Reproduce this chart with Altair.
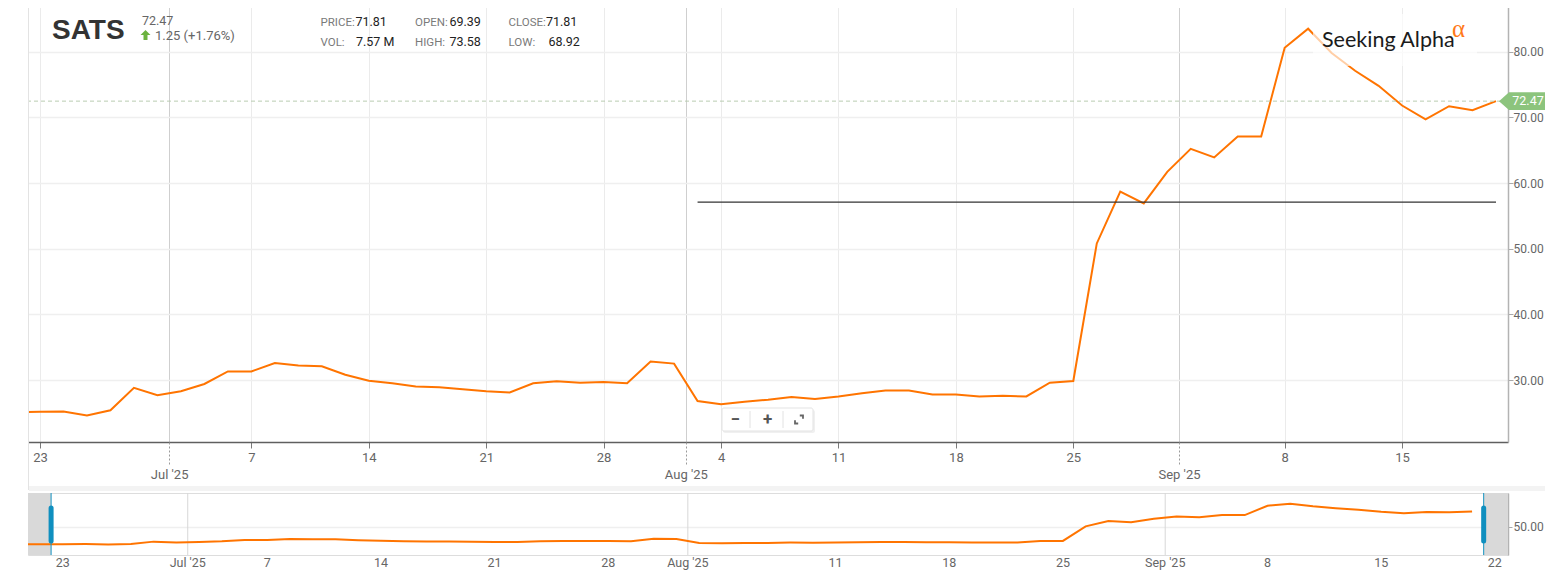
import json
import altair as alt
import pandas as pd

# ---------------- data ----------------
# trading-day index (0 = Mon Jun 23 2025; -2 = Jun 18, -1 = Jun 20; 62 = Fri Sep 19)
day_idx = list(range(-2, 63))
prices = [25.1, 25.1, 25.15, 25.2, 24.6, 25.4, 28.8, 27.7, 28.3, 29.4,
          31.3, 31.3, 32.6, 32.2, 32.1, 30.8, 29.9, 29.5, 29.0, 28.9,
          28.6, 28.3, 28.1, 29.5, 29.8, 29.6, 29.7, 29.5, 32.8, 32.5,
          26.8, 26.3, 26.7, 27.0, 27.4, 27.1, 27.5, 28.0, 28.4, 28.4,
          27.8, 27.8, 27.5, 27.6, 27.5, 29.6, 29.85, 50.8, 58.7, 56.9,
          61.7, 65.2, 63.9, 67.1, 67.1, 80.6, 83.5, 79.8, 77.1, 74.8,
          71.8, 69.7, 71.7, 71.1, 72.47]
assert len(day_idx) == len(prices)

# horizontal level line (start index, end index, value)
level_start, level_end, level_value = [28], [62], [57.1]

# axis ticks
main_day_ticks = [0, 9, 14, 19, 24, 29, 34, 39, 44, 53, 58]
main_day_labels = ["23", "7", "14", "21", "28", "4", "11", "18", "25", "8", "15"]
month_ticks = [5.5, 27.5, 48.5]
month_labels = ["Jul '25", "Aug '25", "Sep '25"]
nav_ticks = [0, 5.5, 9, 14, 19, 24, 27.5, 34, 39, 44, 48.5, 53, 58, 63]
nav_labels = ["23", "Jul '25", "7", "14", "21", "28", "Aug '25", "11", "18",
              "25", "Sep '25", "8", "15", "22"]
price_ticks = [30, 40, 50, 60, 70, 80]
nav_price_ticks = [50]

# header texts
ticker = "SATS"
last_price = "72.47"
change_text = "1.25 (+1.76%)"
stat_labels = ["PRICE:", "OPEN:", "CLOSE:", "VOL:", "HIGH:", "LOW:"]
stat_values = ["71.81", "69.39", "71.81", "7.57 M", "73.58", "68.92"]
logo_text = "Seeking Alpha"
logo_alpha = "α"
zoom_buttons = ["−", "+"]

# ---------------- layout ----------------
FONT = "Roboto"
W = 1480
H_MAIN = 442
H_NAV = 62
SEL = [-0.511, 62.51]
x_main = alt.Scale(domain=SEL, nice=False, zero=False)
y_main = alt.Scale(domain=[20.56, 87.87], nice=False, zero=False)
NAV_DOM = [-1.527, 63.58]
x_nav = alt.Scale(domain=NAV_DOM, nice=False, zero=False)
y_nav = alt.Scale(domain=[9.5, 99.0], nice=False, zero=False)

ORANGE = "#ff7400"
df = pd.DataFrame({"i": day_idx, "price": prices})
one = pd.DataFrame({"k": [0]})


def label_expr(vals, labels):
    return f"{json.dumps(labels)}[indexof({json.dumps(vals)}, datum.value)]"


def txt(text, x, y, size, color, weight="normal", font=FONT, align="left",
        baseline="alphabetic"):
    return alt.Chart(pd.DataFrame({"t": [text]})).mark_text(
        align=align, baseline=baseline, fontSize=size, color=color,
        fontWeight=weight, font=font
    ).encode(x=alt.value(x), y=alt.value(y), text="t:N")


def prect(x, x2, y, y2, **kw):
    return alt.Chart(one).mark_rect(**kw).encode(
        x=alt.value(x), x2=alt.value(x2), y=alt.value(y), y2=alt.value(y2))


def prule(x, x2, y, y2, **kw):
    return alt.Chart(one).mark_rule(**kw).encode(
        x=alt.value(x), x2=alt.value(x2), y=alt.value(y), y2=alt.value(y2))


common_axis = dict(labelFont=FONT, labelColor="#666666", title=None,
                   labelFlush=False, labelOverlap=False)

day_axis = alt.Axis(orient="bottom", values=main_day_ticks,
                    labelExpr=label_expr(main_day_ticks, main_day_labels),
                    grid=True, gridColor="#ebebeb", gridWidth=1,
                    tickSize=6, tickColor="#7a7a7a",
                    domainColor="#5f5f5f", domainWidth=1.5,
                    labelPadding=3, labelFontSize=13, **common_axis)
month_axis = alt.Axis(orient="bottom", values=month_ticks,
                      labelExpr=label_expr(month_ticks, month_labels),
                      grid=True, gridColor="#cfcfcf", gridWidth=1,
                      tickSize=22, tickDash=[2, 2], tickColor="#9a9a9a",
                      domain=False, labelPadding=4, labelFontSize=13,
                      **common_axis)
y_axis = alt.Axis(orient="right", values=price_ticks, format=".2f",
                  grid=True, gridColor="#efefef", gridWidth=1.5,
                  tickSize=5, tickColor="#aaaaaa",
                  domainColor="#b3b3b3", domainWidth=1.5,
                  labelPadding=0, labelFontSize=12, **common_axis)

# ---------------- main panel ----------------
month_layer = alt.Chart(pd.DataFrame({"i": month_ticks})).mark_rule(opacity=0).encode(
    x=alt.X("i:Q", scale=x_main, axis=month_axis))

line = alt.Chart(df).mark_line(color=ORANGE, strokeWidth=2, clip=True).encode(
    x=alt.X("i:Q", scale=x_main, axis=day_axis),
    y=alt.Y("price:Q", scale=y_main, axis=y_axis))

level = alt.Chart(pd.DataFrame({"a": level_start, "b": level_end, "v": level_value})).mark_rule(
    color="#333333", strokeWidth=1.2).encode(
    x=alt.X("a:Q", scale=x_main, axis=None), x2="b:Q",
    y=alt.Y("v:Q", scale=y_main, axis=y_axis))

last_df = pd.DataFrame({"v": [prices[-1]], "t": [f"{prices[-1]:.2f}"]})
dashed = alt.Chart(last_df).mark_rule(color="#b9cdb1", strokeDash=[4, 3], strokeWidth=1).encode(
    y=alt.Y("v:Q", scale=y_main, axis=y_axis))

logo_box = prect(1285, 1449, 14, 66, color="white", opacity=0.65)
logo1 = txt(logo_text, 1294, 47, 21.5, "#1b1b1b", font="Lato")
logo2 = txt(logo_alpha, 1424, 37, 25, "#ff7a1a", font="Liberation Serif")

price_tag_path = "M-1,0 L-0.565,-0.391 L1,-0.391 L1,0.391 L-0.565,0.391 Z"
tag = alt.Chart(last_df).mark_point(shape=price_tag_path, size=2116, filled=True,
                                    color="#8cc47d", opacity=1).encode(
    x=alt.value(1494), y=alt.Y("v:Q", scale=y_main, axis=y_axis))
tag_text = alt.Chart(last_df).mark_text(color="white", fontSize=12.5, font=FONT,
                                        align="center", baseline="middle").encode(
    x=alt.value(1500), y=alt.Y("v:Q", scale=y_main, axis=y_axis), text="t:N")

# header
head = [
    txt(ticker, 24, 38.5, 28, "#333333", weight="bold", font="Liberation Sans"),
    txt(last_price, 114, 25, 12.5, "#666666"),
    txt(change_text, 127, 39.5, 13, "#666666"),
]
arrow_path = "M0,-1 L1,0 L0.4,0 L0.4,1 L-0.4,1 L-0.4,0 L-1,0 Z"
arrow = alt.Chart(one).mark_point(shape=arrow_path, size=100, filled=True,
                                  color="#6cb33f", opacity=1).encode(
    x=alt.value(117.5), y=alt.value(35))
label_pos = [(292.5, 26), (387, 26), (480.5, 26), (292.5, 45.5), (387, 45.5), (480.5, 45.5)]
value_pos = [(327.5, 26), (421.5, 26), (518, 26), (328, 45.5), (421.5, 45.5), (520.5, 45.5)]
for s, (x, y) in zip(stat_labels, label_pos):
    head.append(txt(s, x, y, 11.5, "#7a7a7a"))
for s, (x, y) in zip(stat_values, value_pos):
    head.append(txt(s, x, y, 12.5, "#222222"))

# zoom controls
expand_path = "M-1,0.2 L-1,1 L-0.2,1 M0.2,-1 L1,-1 L1,-0.2"
controls = [
    prect(695, 787, 410, 433, color="#000000", opacity=0.06, cornerRadius=2),
    prect(694, 785, 408, 431, fill="white", stroke="#e3e3e3", strokeWidth=1, cornerRadius=2),
    prule(722, 722, 411, 428, color="#e2e2e2"),
    prule(755, 755, 411, 428, color="#e2e2e2"),
    txt(zoom_buttons[0], 707.5, 420, 17, "#555555", weight="bold", align="center", baseline="middle"),
    txt(zoom_buttons[1], 739.5, 420, 17, "#555555", weight="bold", align="center", baseline="middle"),
    alt.Chart(one).mark_point(shape=expand_path, size=64, filled=False, strokeWidth=1.8,
                              color="#666666", opacity=1).encode(
        x=alt.value(771), y=alt.value(419.5)),
]
decor = [
    prule(0.5, 0.5, 0, 490, color="#e3e3e3"),
    prect(1, 1517, 486, 491, color="#f3f3f3"),
]

main = alt.layer(line, month_layer, level, dashed, logo_box, logo1, logo2,
                 *head, arrow, tag, tag_text, *controls, *decor).resolve_axis(
    x="independent").properties(width=W, height=H_MAIN)

# ---------------- navigator ----------------
nav_axis = alt.Axis(orient="bottom", values=nav_ticks, labels=False,
                    grid=True, gridColor="#e8e8e8", ticks=False,
                    domainColor="#606060", domainWidth=1.5, title=None)
nav_y_axis = alt.Axis(orient="right", values=nav_price_ticks, format=".2f",
                      grid=True, gridColor="#efefef", gridWidth=1.5,
                      tickSize=4, tickColor="#aaaaaa",
                      domainColor="#b3b3b3", domainWidth=1.5,
                      labelPadding=1, labelFontSize=12, **common_axis)

shade_df = pd.DataFrame({"a": [NAV_DOM[0], SEL[1]], "b": [SEL[0], NAV_DOM[1]]})
shade = alt.Chart(shade_df).mark_rect(color="#d9d9d9").encode(
    x=alt.X("a:Q", scale=x_nav, axis=None), x2="b:Q",
    y=alt.value(0), y2=alt.value(H_NAV))
nav_month_grid = alt.Chart(pd.DataFrame({"i": month_ticks})).mark_rule(
    color="#d7d7d7", strokeWidth=1).encode(
    x=alt.X("i:Q", scale=x_nav, axis=None), y=alt.value(0), y2=alt.value(H_NAV))
nav_line = alt.Chart(df).mark_line(color=ORANGE, strokeWidth=2, clip=True).encode(
    x=alt.X("i:Q", scale=x_nav, axis=nav_axis),
    y=alt.Y("price:Q", scale=y_nav, axis=nav_y_axis))
nav_text = alt.Chart(pd.DataFrame({"i": nav_ticks, "t": nav_labels})).mark_text(
    fontSize=12.5, font=FONT, color="#666666", align="center", baseline="middle").encode(
    x=alt.X("i:Q", scale=x_nav, axis=None), y=alt.value(H_NAV + 8), text="t:N")
handle_df = pd.DataFrame({"h": SEL})
handle_thin = alt.Chart(handle_df).mark_rule(color="#1493c1", strokeWidth=1).encode(
    x=alt.X("h:Q", scale=x_nav, axis=None), y=alt.value(0), y2=alt.value(H_NAV))
handle_bar = alt.Chart(handle_df).mark_rule(color="#0f8fbf", strokeWidth=5, strokeCap="round").encode(
    x=alt.X("h:Q", scale=x_nav, axis=None), y=alt.value(15), y2=alt.value(48))

nav = alt.layer(shade, nav_month_grid, nav_line, nav_text, handle_thin, handle_bar).properties(
    width=W, height=H_NAV)

chart = alt.vconcat(main, nav, spacing=0).properties(
    padding={"left": 19, "top": -9, "right": -1, "bottom": 1}
).configure_view(stroke=None).configure(background="white")

chart.save("out.html", embed_options={"renderer": "svg", "actions": False})
